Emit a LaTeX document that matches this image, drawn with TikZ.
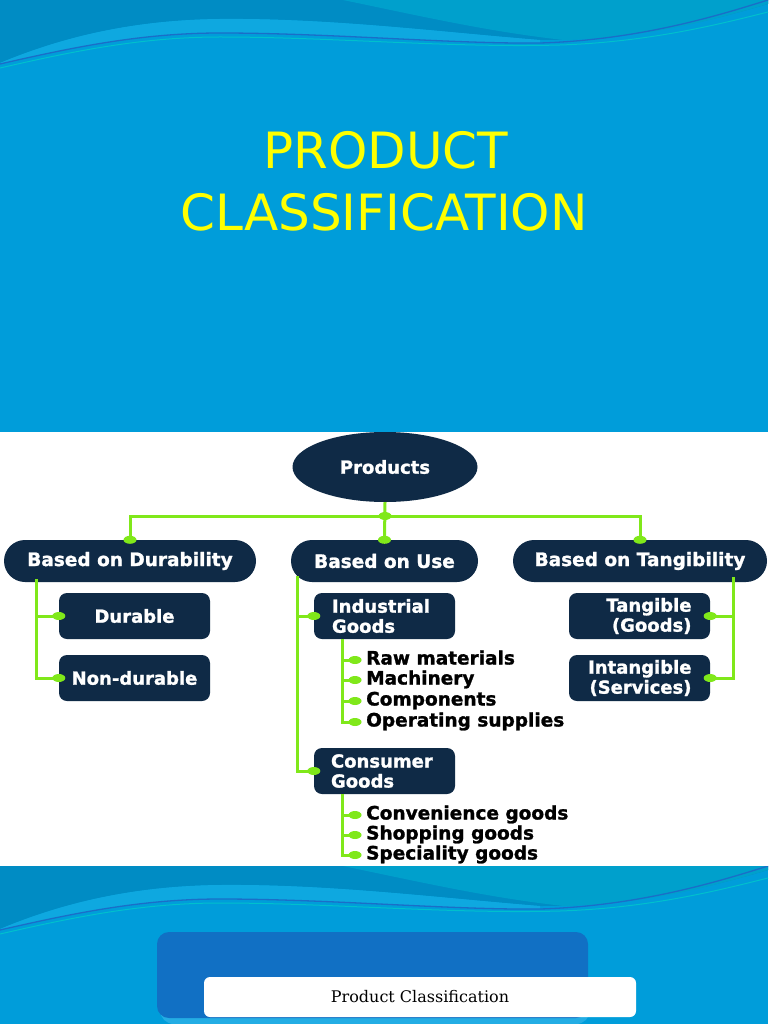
\documentclass[tikz,border=0pt]{standalone}
\usepackage{fontspec}
\setmainfont{DejaVu Sans}
\newfontfamily\heavyfont[BoldFeatures={FakeBold=1.3}]{DejaVu Sans}
\newfontfamily\capserif{DejaVu Serif}
\usetikzlibrary{shapes.geometric,calc,positioning}
\definecolor{skyband}{RGB}{0,157,218}
\definecolor{skydark}{RGB}{0,140,196}
\definecolor{skyteal}{RGB}{0,160,204}
\definecolor{skylight}{RGB}{14,168,224}
\definecolor{waveline}{RGB}{26,110,200}
\definecolor{wavetint}{RGB}{0,192,205}
\definecolor{navybox}{RGB}{15,42,70}
\definecolor{limeline}{RGB}{128,232,26}
\definecolor{capblue}{RGB}{17,112,196}
\definecolor{capglow}{RGB}{60,185,235}
\definecolor{titleyellow}{RGB}{255,255,0}

\newcommand\wavestrip{%
  \fill[skydark] (0,0) -- (0,63) .. controls (60,38) and (130,20) .. (220,19) .. controls (330,18) and (440,32) .. (540,40) .. controls (640,40) and (720,18) .. (768,4) -- (768,0) -- cycle;
  \fill[skyteal] (343,0) .. controls (420,16) and (490,32) .. (564,40) .. controls (650,38) and (720,18) .. (768,4) -- (768,0) -- cycle;
  \fill[skylight] (0,63) .. controls (60,38) and (130,20) .. (220,19) .. controls (330,18) and (440,32) .. (540,40) -- (540,43) .. controls (450,44) and (330,33) .. (220,33) .. controls (140,33) and (70,48) .. (0,64) -- cycle;
  \draw[wavetint,line width=1pt] (0,68) .. controls (70,52) and (140,37) .. (220,37) .. controls (330,37) and (450,48) .. (560,45) .. controls (650,42) and (720,24) .. (768,12);
  \draw[waveline,line width=1.3pt] (0,64) .. controls (70,48) and (140,33) .. (220,33) .. controls (330,33) and (450,44) .. (540,43) .. controls (640,40) and (720,15) .. (768,0);
}

\begin{document}
\begin{tikzpicture}[x=1pt,y=-1pt,
  link/.style={limeline,line width=3pt},
  knot/.style={fill=limeline},
  basis/.style={fill=navybox,text=white,font=\heavyfont\bfseries\fontsize{18.5}{20}\selectfont,
    rounded corners=21pt,minimum height=42pt,inner sep=0pt},
  kind/.style={fill=navybox,text=white,font=\heavyfont\bfseries\fontsize{18}{20}\selectfont,
    rounded corners=8pt,minimum width=141pt,minimum height=46pt,inner sep=0pt},
  item/.style={anchor=west,inner xsep=11pt,inner ysep=0pt,text height=13pt,text depth=4pt,
    font=\heavyfont\bfseries\fontsize{18.5}{20}\selectfont}]
  \useasboundingbox (0,0) rectangle (768,1024);
  \fill[skyband] (0,0) rectangle (768,1024);
  \wavestrip
  \begin{scope}[shift={(0,866)}]
    \wavestrip
  \end{scope}
  \fill[white] (0,432) rectangle (768,866);

  \node[text=titleyellow,font=\fontsize{50}{56}\selectfont] (title1) at (386,150) {PRODUCT};
  \node[text=titleyellow,font=\fontsize{50}{56}\selectfont] (title2) at (384,212) {CLASSIFICATION};

  \node[ellipse,fill=navybox,text=white,font=\heavyfont\bfseries\fontsize{18}{20}\selectfont,
    minimum width=185pt,minimum height=70pt,inner sep=0pt] (prod) at (385,467) {Products};
  \node[basis,minimum width=252pt] (dur) at (130,561) {Based on Durability};
  \node[basis,minimum width=187pt] (use) at (384.5,561) {Based on Use};
  \node[basis,minimum width=254pt] (tan) at (640,561) {Based on Tangibility};

  \node[kind,minimum width=151pt] (durable) at (134.5,616) {Durable};
  \node[kind,minimum width=151pt] (nondur) at (134.5,678) {Non-durable};
  \node[kind,align=left,text width=105pt,inner xsep=18pt] (ind) at (384.5,616) {Industrial\\Goods};
  \node[kind,align=left,text width=107pt,inner xsep=17pt] (cons) at (384.5,771) {Consumer\\Goods};
  \node[kind,align=right,text width=104pt,inner xsep=18.5pt] (tang) at (639.5,616) {Tangible\\(Goods)};
  \node[kind,align=right,text width=104pt,inner xsep=18.5pt] (intan) at (639.5,678) {Intangible\\(Services)};

  \node[item] (raw) at (355,660) {Raw materials};
  \node[item] (mach) at (355,680) {Machinery};
  \node[item] (comp) at (355,701) {Components};
  \node[item] (oper) at (355,722) {Operating supplies};
  \node[item] (conv) at (355,815) {Convenience goods};
  \node[item] (shop) at (355,835) {Shopping goods};
  \node[item] (spec) at (355,855) {Speciality goods};

  \coordinate (hub) at (385,516);
  \coordinate (durfoot) at (36,579);
  \coordinate (usefoot) at (297,576);
  \coordinate (tanfoot) at (733,577);
  \coordinate (indfoot) at (342,639);
  \coordinate (consfoot) at (342,794);

  \draw[link] (prod.south) -- (use.north);
  \draw[link] (dur.north) |- (hub) -| (tan.north);
  \draw[link] (durfoot) |- (nondur.west);
  \draw[link] (durfoot |- durable.west) -- (durable.west);
  \draw[link] (usefoot) |- (cons.west);
  \draw[link] (usefoot |- ind.west) -- (ind.west);
  \draw[link] (tanfoot) |- (intan.east);
  \draw[link] (tanfoot |- tang.east) -- (tang.east);
  \draw[link] (indfoot) |- (oper.west);
  \draw[link] (consfoot) |- (spec.west);
  \foreach \leaf in {raw,mach,comp}
    \draw[link] (indfoot |- \leaf.west) -- (\leaf.west);
  \foreach \leaf in {conv,shop}
    \draw[link] (consfoot |- \leaf.west) -- (\leaf.west);

  \foreach \spot in {hub,dur.north,use.north,tan.north,durable.west,nondur.west,ind.west,cons.west,
      tang.east,intan.east,raw.west,mach.west,comp.west,oper.west,conv.west,shop.west,spec.west}
    \fill[knot] (\spot) ellipse (6.5 and 4);

  \fill[capglow,opacity=0.6,rounded corners=14pt] (160,1000) rectangle (590,1024);
  \node[fill=capblue,rounded corners=12pt,minimum width=431pt,minimum height=86pt] (capbox) at (372.5,975) {};
  \node[fill=white,rounded corners=6pt,minimum width=432pt,minimum height=40pt,
    font=\capserif\fontsize{16}{18}\selectfont] (caption) at (420,997) {Product Classification};
\end{tikzpicture}
\end{document}
